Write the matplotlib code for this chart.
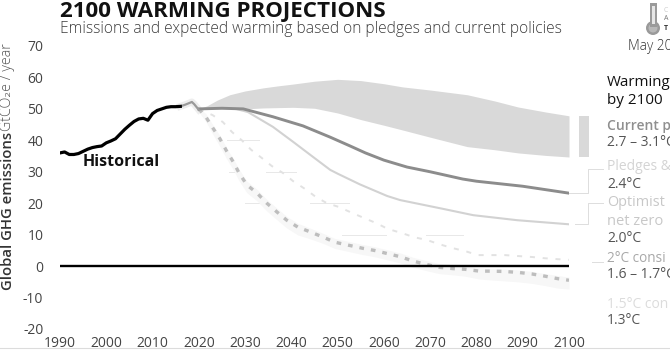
import matplotlib
matplotlib.use('Agg')
import matplotlib.pyplot as plt
from matplotlib.patches import Circle, Rectangle
from matplotlib.lines import Line2D

plt.rcParams['font.family'] = ['Open Sans', 'DejaVu Sans']

W, H = 670, 350

hist_years = list(range(1990, 2017))
hist_vals = [36, 36.3, 35.5, 35.5, 35.8, 36.5, 37.2, 37.7, 38, 38.2, 39.2, 39.8, 40.5, 42, 43.5,
             44.8, 46, 46.8, 47, 46.4, 48.5, 49.5, 50, 50.5, 50.7, 50.7, 50.8]

recent_years = [2016, 2017, 2018, 2018.5, 2019, 2020]
recent_vals = [50.8, 51.3, 51.9, 52.2, 51.5, 49.7]

band_top_years = [2020, 2021.8, 2024, 2026.7, 2030, 2034, 2037, 2040.4, 2045, 2050, 2055, 2060, 2064, 2070, 2078,
                  2084, 2089, 2095, 2100]
band_top_vals = [50, 51, 52.8, 54.5, 55.7, 56.7, 57.3, 57.9, 58.8, 59.4, 59, 58, 57, 56, 54.5, 52.5, 50.6, 49, 47.8]
band_low_vals = [50, 50, 50, 50, 50, 50.3, 50.4, 50.5, 50.2, 48.7, 46.6, 44.8, 43.3, 41, 38, 37, 36, 35.2, 34.7]

band_end_years = [2102.2, 2104.4]
band_end_low = 34.7
band_end_top = 47.8

pledge_years = [2020, 2025, 2029.6, 2036, 2042.5, 2048.4, 2052.7, 2056, 2060, 2065, 2070, 2077, 2080, 2090, 2100]
pledge_vals = [50, 50.2, 50, 47.5, 44.6, 41, 38.2, 36, 33.7, 31.5, 30, 27.7, 27, 25.4, 23.2]

opt_years = [2028, 2030.6, 2036, 2040.4, 2044.7, 2048.4, 2050, 2054.8, 2060.7, 2063.5, 2072.8, 2079.3, 2088.8, 2100]
opt_vals = [50, 49, 44.3, 39.5, 34.7, 30.6, 29.4, 26, 22.3, 21, 18.2, 16.2, 14.6, 13.3]

two_years = [2020, 2023, 2025.2, 2027.2, 2029.3, 2031.3, 2033.6, 2035.8, 2038.2, 2040.4, 2043, 2045.3, 2047.7,
             2050.3, 2053, 2055.7, 2058.3, 2060.9, 2063.9, 2066.5, 2069.3, 2071.9, 2074.9, 2077.5, 2080.3,
             2083.4, 2086.2, 2089, 2092, 2094.8, 2097.6, 2100]
two_vals = [50, 48, 45.8, 42.6, 40, 37, 34.4, 31.8, 29.6, 27, 24.5, 22, 20, 18.8, 17, 15.3, 13.7, 11.8, 10.5,
            9.2, 8.3, 7, 5.7, 4.8, 3.5, 3.5, 3.5, 3.2, 2.9, 2.5, 2.2, 2]

one5_years = [2020, 2021.5, 2023, 2024.6, 2026, 2027.5, 2028.7, 2030.4, 2032.6, 2034.7, 2036.9, 2039, 2041.4,
              2044.2, 2046.9, 2049.4, 2052.2, 2055.3, 2057.9, 2060.7, 2063.5, 2066.3, 2069, 2072, 2075, 2077.5,
              2080.6, 2083, 2086, 2089, 2092, 2094.8, 2097.6, 2100]
one5_vals = [50, 47.5, 44, 40.4, 36.6, 33, 29.6, 25.8, 23.2, 20, 17.2, 14.6, 12.4, 10.8, 9.2, 7.6, 6.7, 5.7, 5,
             4, 3, 1.6, 0.6, -0.4, -0.8, -1, -1.6, -1.6, -1.7, -2, -2.5, -3.2, -4, -4.5]
halo_up = [0.5, 1, 1, 1, 1, 1, 1.2, 1.2, 1.2, 1.2, 1.2, 1.2, 1.2, 1.2, 1.2, 1.2, 1.2, 1.2, 1.2, 1.2, 1.2, 1.2,
           1.2, 1.2, 1.2, 1, 1, 0.8, 0.8, 0.8, 0.8, 0.8, 1, 1]
halo_down = [1, 1.5, 2, 2.5, 2.5, 2.5, 2.5, 2.5, 2.5, 2.5, 2.5, 2.5, 2.5, 2.2, 2, 2, 2, 2, 2, 2, 2, 2, 2, 2, 2,
             2.2, 2.5, 2.8, 3, 3, 3, 3, 3, 2.8]

grid_bits = [(40, 2026, 2033), (30, 2026.5, 2028.5), (30, 2034.5, 2041), (20, 2030, 2035), (20, 2044, 2052.5),
             (10, 2051, 2060.5), (10, 2069, 2077)]

x_ticks = list(range(1990, 2101, 10))
y_ticks = list(range(-20, 71, 10))
y_tick_labels = [str(v) for v in y_ticks]


def fx(px):
    return px / W


def fy(py):
    return 1 - py / H


fig = plt.figure(figsize=(6.7, 3.5), dpi=100)
ax = fig.add_axes([fx(60), fy(329), (569 - 60) / W, (329 - 46) / H])
ax.set_xlim(1990, 2100)
ax.set_ylim(-20, 70)
for s in ax.spines.values():
    s.set_visible(False)
ax.set_xticks(x_ticks)
ax.set_yticks(y_ticks)
ax.set_yticklabels(y_tick_labels)
ax.tick_params(length=0, labelsize=10, labelcolor='#444444')
ax.tick_params(axis='x', pad=5)
ax.tick_params(axis='y', pad=12)

for val, x0, x1 in grid_bits:
    ax.plot([x0, x1], [val, val], color='#e8e8e8', lw=0.7, zorder=1)

ax.fill_between(band_top_years, band_low_vals, band_top_vals, color='#d9d9d9', lw=0, zorder=2)
ax.add_patch(Rectangle((band_end_years[0], band_end_low), band_end_years[1] - band_end_years[0],
                       band_end_top - band_end_low, color='#d9d9d9', lw=0, clip_on=False))

ax.fill_between(one5_years, [v - d for v, d in zip(one5_vals, halo_down)],
                [v + u for v, u in zip(one5_vals, halo_up)], color='#f7f7f7', lw=0, zorder=1.5)

ax.plot(two_years, two_vals, color='#e2e2e2', lw=1.4, dashes=(2.6, 4), zorder=3)
ax.plot(opt_years, opt_vals, color='#d2d2d2', lw=1.5, zorder=3)
ax.plot(one5_years, one5_vals, color='#bdbdbd', lw=2.4, dashes=(1.4, 2.1), zorder=3)
ax.plot(recent_years, recent_vals, color='#eeeeee', lw=5, zorder=2.5)
ax.plot(pledge_years, pledge_vals, color='#8c8c8c', lw=2.1, zorder=4)
ax.plot(recent_years, recent_vals, color='#9a9a9a', lw=1.6, zorder=4)
ax.plot([1990, 2100], [0, 0], color='black', lw=1.7, zorder=5)
ax.plot(hist_years, hist_vals, color='black', lw=2.3, zorder=6)

ax.text(2003.2, 33, 'Historical', fontsize=11.5, fontweight='bold', color='#111111', ha='center', va='center')


def label(px, py, s, **kw):
    kw.setdefault('va', 'center')
    kw.setdefault('ha', 'left')
    fig.text(fx(px), fy(py), s, **kw)


label(60, 17, '2100 WARMING PROJECTIONS', fontsize=16.1, fontweight='bold', color='#111111', va='baseline')
label(60, 29, 'Emissions and expected warming based on pledges and current policies',
      fontsize=11.2, fontweight='light', color='#3c3c3c')

label(8, 290, 'Global GHG emissions', fontsize=10.7, fontweight='semibold', color='#333333',
      rotation=90, va='bottom', ha='center')
label(8, 131, 'GtCO₂e / year', fontsize=10.3, fontweight='light', color='#555555',
      rotation=90, va='bottom', ha='center')

label(607, 82, 'Warming', fontsize=10.8, color='#111111')
label(607, 100, 'by 2100', fontsize=11, color='#111111')
label(607, 126, 'Current p', fontsize=10, fontweight='semibold', color='#8f8f8f')
label(607, 143, '2.7 – 3.1°C', fontsize=10, color='#555555')
label(607, 167, 'Pledges &', fontsize=10, color='#d4d4d4')
label(607, 184, '2.4°C', fontsize=10, color='#555555')
label(607, 202, 'Optimist', fontsize=10.4, color='#c8c8c8')
label(607, 222, 'net zero', fontsize=10.5, color='#c8c8c8')
label(607, 238, '2.0°C', fontsize=10, color='#555555')
label(607, 258, '2°C consi', fontsize=9.8, color='#a8a8a8')
label(607, 274, '1.6 – 1.7°C', fontsize=10, color='#555555')
label(607, 304, '1.5°C con', fontsize=10, color='#dcdcdc')
label(607, 320, '1.3°C', fontsize=10, color='#555555')
label(628, 47, 'May 20', fontsize=9.8, fontweight='light', color='#333333')
label(664, 10, 'C', fontsize=5, color='#cccccc')
label(664, 19, 'A', fontsize=5, color='#777777')
label(664, 29, 'T', fontsize=5, fontweight='bold', color='#333333')

# leader lines, in pixels
leaders = [[(569, 193), (588, 193), (588, 169), (603, 169)],
           [(575, 224), (588, 224), (588, 203), (603, 203)],
           [(592, 262), (603, 262)]]
for pts in leaders:
    fig.add_artist(Line2D([fx(p[0]) for p in pts], [fy(p[1]) for p in pts], color='#dddddd', lw=0.7))
fig.add_artist(Line2D([0, 1], [fy(348), fy(348)], color='#dcdcdc', lw=0.8))

# thermometer icon
fig.add_artist(Rectangle((fx(649.5), fy(27)), 7 / W, 24 / H, fc='#9a9a9a', ec='none', transform=fig.transFigure))
fig.add_artist(Rectangle((fx(651.5), fy(24)), 3 / W, 18 / H, fc='#e6e6e6', ec='none', transform=fig.transFigure))
icon_ax = fig.add_axes([fx(644), fy(37), 18 / W, 18 / H])
icon_ax.set_xlim(-9, 9)
icon_ax.set_ylim(-9, 9)
icon_ax.axis('off')
icon_ax.add_patch(Circle((0, 0), 7, fc='#9a9a9a', ec='none'))
icon_ax.add_patch(Circle((0, 0), 4.5, fc='#b8b8b8', ec='none'))

fig.savefig('out.png', dpi=100)
